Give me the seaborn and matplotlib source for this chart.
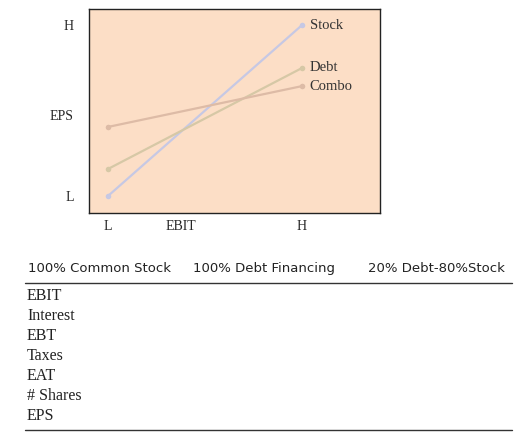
import matplotlib
matplotlib.use("Agg")
import matplotlib.pyplot as plt
import seaborn as sns
import pandas as pd
from matplotlib.lines import Line2D

levels = [0, 1]
stock = [0.0, 1.0]
debt = [0.158, 0.749]
combo = [0.404, 0.643]
series_names = ["Stock", "Debt", "Combo"]
colors = ["#c6c8e4", "#d6c8a6", "#ddbba6"]
xtick_vals = [0, 0.376, 1]
xtick_labels = ["L", "EBIT", "H"]
ytick_vals = [0, 0.474, 1]
ytick_labels = ["L", "EPS", "H"]
headers = ["100% Common Stock", "100% Debt Financing", "20% Debt-80%Stock"]
rows = ["EBIT", "Interest", "EBT", "Taxes", "EAT", "# Shares", "EPS"]

sns.set_style("white")
serif = ["Liberation Serif", "DejaVu Serif"]

df = pd.DataFrame({
    "x": levels * 3,
    "y": stock + debt + combo,
    "s": [n for n in series_names for _ in levels],
})

fig = plt.figure(figsize=(5.2, 4.4), dpi=100)
ax = fig.add_axes([0.171, 0.516, 0.56, 0.4636])
ax.set_facecolor("#fcdec6")
sns.lineplot(data=df, x="x", y="y", hue="s", palette=colors, marker="o",
             markersize=4, markeredgewidth=0, linewidth=1.6, legend=False, ax=ax)
for name, vals in zip(series_names, [stock, debt, combo]):
    ax.text(1.04, vals[1], name, fontsize=10.5, family=serif, va="center", color="#333333")
ax.set_xlim(-0.098, 1.402)
ax.set_ylim(-0.099, 1.094)
ax.set_xticks(xtick_vals, xtick_labels, family=serif, fontsize=10)
ax.set_yticks(ytick_vals, ytick_labels, family=serif, fontsize=10)
ax.tick_params(axis="x", length=0, pad=5)
ax.tick_params(axis="y", length=0, pad=11)
ax.set_xlabel("")
ax.set_ylabel("")
for sp in ax.spines.values():
    sp.set_color("#222222")
    sp.set_linewidth(1)

hx = [28 / 520, 193 / 520, 368 / 520]
for x, h in zip(hx, headers):
    fig.text(x, 1 - 268 / 440, h, fontsize=9.5, family="DejaVu Sans", va="center", color="#222222")
fig.add_artist(Line2D([25 / 520, 512 / 520], [1 - 283 / 440] * 2, color="#333333", lw=1))
for i, r in enumerate(rows):
    fig.text(27 / 520, 1 - (296 + i * 20) / 440, r, fontsize=11.5, family=serif, va="center", color="#222222")
fig.add_artist(Line2D([25 / 520, 512 / 520], [1 - 430 / 440] * 2, color="#333333", lw=1))

fig.savefig("out.png", dpi=100)
